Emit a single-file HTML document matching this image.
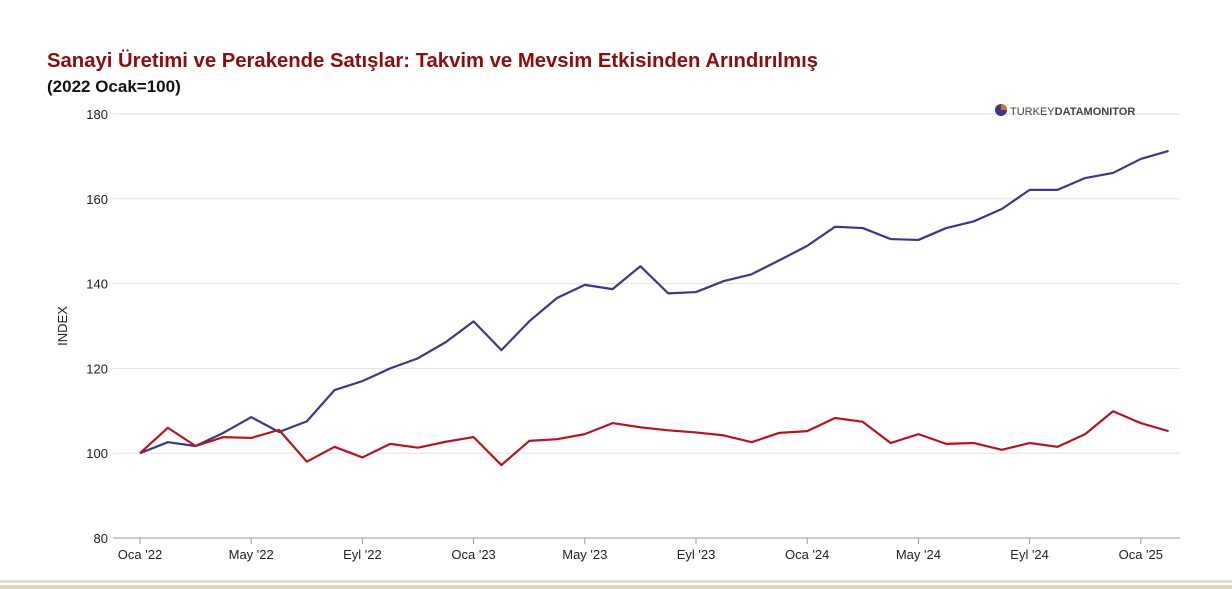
<!DOCTYPE html>
<html><head><meta charset="utf-8"><style>
body{margin:0;width:1232px;height:589px;background:#fff;overflow:hidden;font-family:"Liberation Sans",sans-serif}
#title{position:absolute;left:47px;top:50px;font-size:20.3px;font-weight:bold;color:#8c0d0d}
#sub{position:absolute;left:47px;top:77px;font-size:17px;font-weight:bold;color:#111}
</style></head><body>
<div id="title">Sanayi Üretimi ve Perakende Satışlar: Takvim ve Mevsim Etkisinden Arındırılmış</div>
<div id="sub">(2022 Ocak=100)</div>
<svg id="chart" width="1232" height="589" style="position:absolute;left:0;top:0"></svg>
<script>
const months=["Oca '22","May '22","Eyl '22","Oca '23","May '23","Eyl '23","Oca '24","May '24","Eyl '24","Oca '25"];
const tickMonthIdx=[0,4,8,12,16,20,24,28,32,36];
const yTicks=[80,100,120,140,160,180];
const blueSeries=[100,102.6,101.7,104.8,108.5,105,107.5,114.9,117,120,122.4,126.2,131.1,124.3,131.1,136.6,139.7,138.7,144.1,137.7,138,140.6,142.2,145.5,148.9,153.4,153.1,150.5,150.3,153.1,154.7,157.6,162.1,162.1,164.9,166.1,169.4,171.3];
const redSeries=[100,106,101.7,103.8,103.6,105.5,98,101.5,99,102.2,101.3,102.7,103.8,97.2,102.9,103.3,104.5,107.1,106.1,105.4,104.9,104.2,102.6,104.8,105.2,108.3,107.4,102.4,104.5,102.2,102.4,100.8,102.4,101.5,104.5,109.9,107.1,105.2];
const svg=document.getElementById('chart');const NS='http://www.w3.org/2000/svg';
const x0=140,dx=27.8,L=113,R=1180;
const xs=i=>x0+dx*i, ys=v=>538-(v-80)*4.24;
function mk(t,a){const e=document.createElementNS(NS,t);for(const k in a)e.setAttribute(k,a[k]);svg.appendChild(e);return e;}
yTicks.forEach(v=>{
 const g=mk('line',{x1:L,x2:R,y1:ys(v),y2:ys(v),stroke:v===80?'#999':'#e2e2e2','stroke-width':1});
 
 
 const t=mk('text',{x:108,y:ys(v)+5,'text-anchor':'end','font-size':13,fill:'#222'});t.textContent=v;
 
 
});
months.forEach((m,k)=>{
 const x=xs(tickMonthIdx[k]);
 const tk=mk('line',{x1:x,x2:x,y1:538,y2:544,stroke:'#999'});
 
 
 const t=mk('text',{x:x,y:559,'text-anchor':'middle','font-size':13,fill:'#222'});t.textContent=m;
 
 
});
const yt=mk('text',{x:0,y:0,transform:'translate(67,326) rotate(-90)','text-anchor':'middle','font-size':13,fill:'#222'});yt.textContent='INDEX';


function line(arr,c,n){const p=mk('polyline',{points:arr.map((v,i)=>xs(i)+','+ys(v)).join(' '),fill:'none',stroke:c,'stroke-width':2.2,'stroke-linejoin':'round'});
 
 }
line(blueSeries,'#3b3889','series-blue-line');
line(redSeries,'#b3161d','series-red-line');
const lg=mk('circle',{cx:1001,cy:110,r:6,fill:'#3b3889'});


mk('path',{d:'M1001 104 A6 6 0 0 1 1007 110 L1001 110 Z',fill:'#d86a1e'});
const lt=mk('text',{x:1010,y:115,'font-size':11,fill:'#444'});
lt.innerHTML='TURKEY<tspan font-weight="bold">DATAMONITOR</tspan>';


const b1=mk('rect',{x:0,y:580,width:1232,height:3,fill:'#dcdcdc'});


const b2=mk('rect',{x:0,y:585,width:1232,height:4,fill:'#d9d6b8'});


</script>
</body></html>
